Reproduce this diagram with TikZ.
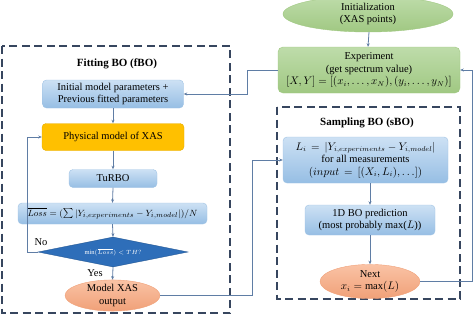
\documentclass[tikz,border=0pt]{standalone}
\usepackage{fontspec}
\setmainfont{Liberation Serif}
\usetikzlibrary{arrows.meta,shapes.geometric,calc}
\definecolor{bluetop}{RGB}{205,225,244}
\definecolor{bluebot}{RGB}{150,190,228}
\definecolor{blueedge}{RGB}{160,195,228}
\definecolor{orangefill}{RGB}{255,192,0}
\definecolor{greentop}{RGB}{190,220,170}
\definecolor{greenbot}{RGB}{160,200,130}
\definecolor{salmontop}{RGB}{250,195,165}
\definecolor{salmonbot}{RGB}{240,160,120}
\definecolor{diamondblue}{RGB}{46,110,185}
\definecolor{dashcol}{RGB}{55,70,95}
\definecolor{linecol}{RGB}{95,125,165}
\begin{document}
\begin{tikzpicture}[x=1pt,y=-1pt,
  txt/.style={font=\fontsize{10.5}{12.5}\selectfont, align=center, inner sep=1pt},
  bluebox/.style={txt, rounded corners=4pt, top color=bluetop, bottom color=bluebot, draw=blueedge, line width=0.4pt},
  orangebox/.style={txt, rounded corners=4pt, fill=orangefill, draw=orangefill!90!black, line width=0.4pt},
  greenbox/.style={txt, rounded corners=5pt, top color=greentop, bottom color=greenbot, draw=greenbot, line width=0.4pt},
  greenell/.style={txt, ellipse, top color=greentop, bottom color=greenbot, draw=greenbot, line width=0.4pt},
  salmonell/.style={txt, ellipse, top color=salmontop, bottom color=salmonbot, draw=salmonbot, line width=0.4pt},
  decision/.style={diamond, aspect=5, fill=diamondblue, draw=diamondblue!80!black, line width=0.4pt, text=white, inner sep=0pt, font=\fontsize{6.5}{8}\selectfont},
  groupbox/.style={draw=dashcol, line width=2.2pt, dash pattern=on 8pt off 4.5pt},
  grouptitle/.style={font=\fontsize{11}{13}\selectfont\bfseries},
  conn/.style={draw=linecol, line width=0.8pt, -{Stealth[length=3.5pt,width=3pt]}},
  lbl/.style={font=\fontsize{10.5}{12}\selectfont, inner sep=0pt}
]
\useasboundingbox (0,0) rectangle (474,316);

% group boxes
\draw[groupbox] (2,46) rectangle (230,313);
\draw[groupbox] (277,107) rectangle (460,299);
\node[grouptitle] (tf) at (117,64) {Fitting BO (fBO)};
\node[grouptitle] (ts) at (367,123) {Sampling BO (sBO)};

% left column
\node[bluebox, minimum width=141pt, minimum height=28pt] (init) at (113,94) {Initial model parameters +\\Previous fitted parameters};
\node[orangebox, minimum width=142pt, minimum height=27pt] (phys) at (113,137) {Physical model of XAS};
\node[bluebox, minimum width=88pt, minimum height=18pt] (turbo) at (113,178.5) {TuRBO};
\node[bluebox, minimum width=189pt, minimum height=21pt, font=\fontsize{9.5}{12}\selectfont] (loss) at (112.5,213.5) {$\overline{Loss} = (\sum|Y_{i,experiments} - Y_{i,model}|)/N$};
\node[decision, minimum width=150pt, minimum height=30pt] (dec) at (113,252) {$\min(\overline{Loss}) < TH?$};
\node[salmonell, minimum width=95pt, minimum height=29pt, inner sep=0pt] (out) at (112.5,295.5) {Model XAS\\output};
\node[lbl] (no) at (41,242) {No};
\node[lbl] (yes) at (95,273) {Yes};

% right column
\node[greenell, minimum width=170pt, minimum height=36pt, inner sep=0pt] (ini) at (368,14) {Initialization\\(XAS points)};
\node[greenbox, minimum width=182pt, minimum height=46pt] (exp) at (369,70) {Experiment\\(get spectrum value)\\$[X,Y] = [(x_i,\dots,x_N),(y_i,\dots,y_N)]$};
\node[bluebox, minimum width=165pt, minimum height=46pt] (li) at (365.5,160) {$L_i\,=\,|Y_{i,experiments} - Y_{i,model}|$\\for all measurements\\$(input\,=\,[(X_i,L_i),\dots])$};
\node[bluebox, minimum width=130pt, minimum height=30pt] (bo) at (370,220) {1D BO prediction\\(most probably max($L$))};
\node[salmonell, minimum width=100pt, minimum height=31pt] (next) at (370,281.5) {Next\\$x_i = \max(L)$};

% helper coordinates
\coordinate (c1) at (247,70);
\coordinate (c2) at (247,94);
\coordinate (c3) at (472,281.5);
\coordinate (c4) at (472,70);
\coordinate (c5) at (252,295.5);
\coordinate (c6) at (252,160);
\coordinate (c7) at (27,252);
\coordinate (c8) at (27,137);

% connectors
\draw[conn] (ini.south -| exp.north) -- (exp.north -| ini.south);
\draw[conn] (exp.west) -- (c1) -- (c2) -- (init.east);
\draw[conn] (next.east) -- (c3) -- (c4) -- (exp.east);
\draw[conn] (out.east) -- (c5) -- (c6) -- (li.west);
\draw[conn] (dec.west) -- (c7) -- (c8) -- (phys.west);
\draw[conn] (init.south) -- (phys.north);
\draw[conn] (phys.south) -- (turbo.north);
\draw[conn] (turbo.south) -- (loss.north);
\draw[conn] (loss.south) -- (dec.north);
\draw[conn] (dec.south) -- (out.north);
\draw[conn] (li.south -| bo.north) -- (bo.north);
\draw[conn] (bo.south) -- (next.north);
\end{tikzpicture}
\end{document}
